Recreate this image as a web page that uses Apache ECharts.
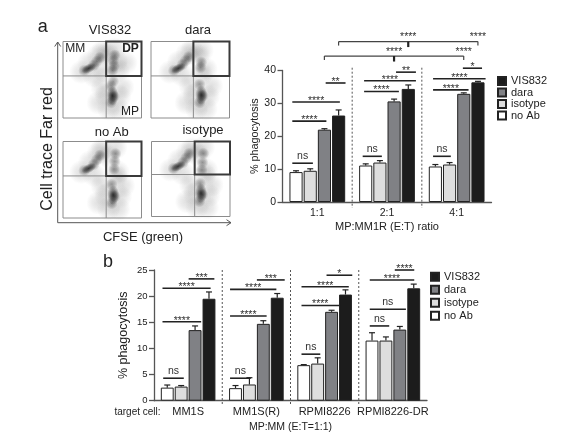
<!DOCTYPE html>
<html><head><meta charset="utf-8">
<script src="https://cdn.jsdelivr.net/npm/echarts@6/dist/echarts.min.js"></script>
<style>html,body{margin:0;padding:0;background:#fff}#c{width:567px;height:446px}</style>
</head><body><div id="c"></div>
<script>
const FONT = "'Liberation Sans', Arial, Helvetica, sans-serif";

// ---------- panel a: flow dot plots (0-100 units, y up) ----------
const dotTitles = ['VIS832', 'dara', 'no Ab', 'isotype'];
const dotGates = [[55, 55], [54, 55], [55, 55], [55, 56]];
const vis832MM = [[33, 65]];
const vis832MP = [[63, 29]];
const vis832Mid = [[27,62],[39,69],[43,74],[47,79],[61,20],[65,28],[61,42],[64,48],[63,62],[65,68],[64,75],[66,82]];
const vis832Sparse = [[23,60],[33,72],[45,82],[51,87],[57,84],[66,90],[70,62],[68,74],[55,30],[72,28],[58,12],[70,12],[50,40],[76,40],[45,20],[40,55],[80,72],[52,62]];
const daraMM = [[35, 65]];
const daraMP = [[64, 30]];
const daraMid = [[29,62],[40,70],[44,75],[48,80],[62,20],[66,29],[62,44],[63,66],[64,73]];
const daraSparse = [[24,60],[35,73],[46,84],[52,88],[60,82],[65,88],[70,64],[55,30],[73,28],[58,12],[70,12],[50,42],[77,42],[45,20],[40,56],[64,57]];
const noAbMM = [[33, 65]];
const noAbMP = [[64, 30]];
const noAbMid = [[27,62],[39,70],[43,76],[47,82],[62,19],[66,28],[62,44],[65,64],[66,74],[67,84]];
const noAbSparse = [[23,60],[34,73],[45,85],[50,90],[58,80],[67,92],[70,60],[55,30],[73,28],[58,12],[71,12],[50,42],[77,42],[45,20],[40,56],[68,54]];
const isoMM = [[34, 67]];
const isoMP = [[63, 31]];
const isoMid = [[28,64],[40,72],[44,78],[48,84],[61,20],[65,29],[62,44],[64,62],[65,72],[66,84]];
const isoSparse = [[24,62],[35,75],[46,86],[52,90],[60,82],[66,92],[70,62],[55,30],[73,28],[58,12],[71,12],[50,42],[77,42],[45,20],[40,57],[68,55]];

// ---------- panel a: bar chart ----------
const ratios = ['1:1', '2:1', '4:1'];
const aNoAb = [9.1, 11.1, 10.8];      const aNoAbErr = [0.4, 0.5, 0.6];
const aIsotype = [9.5, 12.0, 11.4];   const aIsotypeErr = [0.6, 0.6, 0.6];
const aDara = [22.0, 30.6, 32.9];     const aDaraErr = [0.3, 0.7, 0.3];
const aVIS832 = [26.3, 34.4, 36.4];   const aVIS832Err = [1.7, 1.2, 0.3];
// [category, from bar slot, to bar slot, height, label]
const aBrackets = [
  [0, 0.2, 1.65, 11.8, 'ns'], [0, 0.2, 2.6, 24.6, '****'], [0, 0.2, 3.55, 30.4, '****'], [0, 2.55, 3.95, 36.2, '**'],
  [1, 0.25, 1.6, 13.9, 'ns'], [1, 0.35, 2.8, 33.6, '****'], [1, 0.35, 4.0, 36.9, '****'], [1, 2.6, 4.0, 39.5, '**'],
  [2, 0.3, 1.55, 13.9, 'ns'], [2, 0.3, 2.8, 34.1, '****'], [2, 0.3, 4.0, 37.5, '****'], [2, 2.4, 3.75, 40.7, '*']
];
// comparisons across ratios: [bar slot, height, label mid, label end]
const aCross = [[2.46, 44.4, '****', '****'], [3.46, 48.8, '****', '****']];

// ---------- panel b: bar chart ----------
const cells = ['MM1S', 'MM1S(R)', 'RPMI8226', 'RPMI8226-DR'];
const bNoAb = [2.5, 2.4, 6.8, 11.5];     const bNoAbErr = [0.5, 0.5, 0.1, 1.5];
const bIsotype = [2.7, 3.1, 7.1, 11.5];  const bIsotypeErr = [0.2, 1.3, 1.1, 0.7];
const bDara = [13.5, 14.7, 17.0, 13.6];  const bDaraErr = [0.8, 0.6, 0.3, 0.6];
const bVIS832 = [19.5, 19.7, 20.3, 21.5]; const bVIS832Err = [1.3, 0.8, 0.9, 0.8];
const bBrackets = [
  [0, 0.17, 1.65, 4.3, 'ns'], [0, 0.12, 2.9, 15.1, '****'], [0, 0.12, 3.58, 21.5, '****'], [0, 2.0, 3.85, 23.3, '***'],
  [1, 0.07, 1.56, 4.3, 'ns'], [1, 0.07, 2.7, 16.2, '****'], [1, 0.07, 3.4, 21.3, '****'], [1, 2.0, 4.0, 23.1, '***'],
  [2, 0.3, 1.65, 8.9, 'ns'], [2, 0.3, 3.0, 18.2, '****'], [2, 0.3, 3.7, 21.8, '****'], [2, 2.1, 3.95, 24.0, '*'],
  [3, 0.3, 1.7, 14.3, 'ns'], [3, 0.3, 2.9, 17.5, 'ns'], [3, 0.3, 3.5, 23.1, '****'], [3, 2.1, 3.5, 25.0, '****']
];

const groupNames = ['no Ab', 'isotype', 'dara', 'VIS832'];
const groupColors = ['#ffffff', '#dedede', '#808185', '#1c1c1c'];
const legendOrder = ['VIS832', 'dara', 'isotype', 'no Ab'];

// ---------- layout ----------
const CAT_GAP = 0.2, BAR_GAP = 0.08;
const dotGrids = [
  {left: 63, top: 41.5, width: 78.5, height: 76.5},
  {left: 151, top: 41.5, width: 78.5, height: 76.5},
  {left: 63, top: 141.5, width: 78.5, height: 76.5},
  {left: 151.5, top: 141.5, width: 78.5, height: 75}
];
const A = {left: 282.5, top: 70.5, width: 209, height: 131.5};
const AO = {left: A.left, width: A.width, top: A.top + A.height - A.height * 50 / 40, height: A.height * 50 / 40};
const B = {left: 154, top: 270, width: 273, height: 130.7};

function clusterGeom(api, cat) {
  const c = api.coord([cat, 0])[0];
  const band = api.size([1, 0])[0];
  const cluster = band * (1 - CAT_GAP);
  const bw = cluster / (4 + 3 * BAR_GAP);
  const slot = bw * (1 + BAR_GAP);
  return {start: c - cluster / 2, bw, slot, band, c};
}
function slotX(api, cat, pos) { const g = clusterGeom(api, cat); return g.start + pos * g.slot; }

function errRender(params, api) {
  const cat = api.value(0), v = api.value(1), e = api.value(2), gi = api.value(3);
  const g = clusterGeom(api, cat);
  const x = g.start + gi * g.slot + g.bw / 2;
  const y0 = api.coord([cat, v])[1], y1 = api.coord([cat, v + e])[1];
  const st = {stroke: '#222', lineWidth: 1.2};
  return {type: 'group', children: [
    {type: 'line', shape: {x1: x, y1: y0, x2: x, y2: y1}, style: st},
    {type: 'line', shape: {x1: x - 3, y1: y1, x2: x + 3, y2: y1}, style: st}
  ]};
}
function bracketRender(list) {
  return function (params, api) {
    const b = list[params.dataIndex];
    const y = api.coord([b[0], b[3]])[1];
    const x1 = slotX(api, b[0], b[1]), x2 = slotX(api, b[0], b[2]);
    const star = b[4] !== 'ns';
    return {type: 'group', children: [
      {type: 'line', shape: {x1: x1, y1: y, x2: x2, y2: y}, style: {stroke: '#222', lineWidth: 1.6}},
      {type: 'text', x: (x1 + x2) / 2, y: star ? y + 4.5 : y - 1.5,
        style: {text: b[4], fill: '#333', fontSize: 10.5, fontFamily: FONT, align: 'center', verticalAlign: 'bottom'}}
    ]};
  };
}
function crossRender(params, api) {
  const b = aCross[params.dataIndex];
  const xs = [0, 1, 2].map(c => slotX(api, c, b[0]));
  const y = api.coord([0, b[1]])[1];
  const st = {stroke: '#444', lineWidth: 1.2};
  const ts = t => ({text: t, fill: '#333', fontSize: 10.5, fontFamily: FONT, align: 'center', verticalAlign: 'bottom'});
  return {type: 'group', children: [
    {type: 'line', shape: {x1: xs[0], y1: y, x2: xs[2], y2: y}, style: st},
    {type: 'line', shape: {x1: xs[0], y1: y, x2: xs[0], y2: y + 4}, style: st},
    {type: 'line', shape: {x1: xs[2], y1: y, x2: xs[2], y2: y + 4}, style: st},
    {type: 'line', shape: {x1: xs[1], y1: y, x2: xs[1], y2: y + 5.5}, style: {stroke: '#222', lineWidth: 2.2}},
    {type: 'text', x: xs[1], y: y + 1.5, style: ts(b[2])},
    {type: 'text', x: xs[2], y: y + 1.5, style: ts(b[3])}
  ]};
}
function sepRender(top, below) {
  return function (params, api) {
    const cat = api.value(0);
    const g = clusterGeom(api, cat);
    const x = g.c - g.band / 2;
    const y1 = api.coord([cat, top])[1], y2 = api.coord([cat, 0])[1] + below;
    return {type: 'line', shape: {x1: x, y1: y1, x2: x, y2: y2}, style: {stroke: '#555', lineWidth: 1, lineDash: [2, 2]}};
  };
}

const grids = [], xAxes = [], yAxes = [], series = [];
const dotSets = [
  [vis832MM, vis832MP, vis832Mid, vis832Sparse],
  [daraMM, daraMP, daraMid, daraSparse],
  [noAbMM, noAbMP, noAbMid, noAbSparse],
  [isoMM, isoMP, isoMid, isoSparse]
];
function radial(a) {
  return {type: 'radial', x: 0.5, y: 0.5, r: 0.5, colorStops: [
    {offset: 0, color: 'rgba(15,15,15,' + a + ')'}, {offset: 0.5, color: 'rgba(15,15,15,' + (a * 0.6) + ')'}, {offset: 1, color: 'rgba(15,15,15,0)'}]};
}
dotGrids.forEach((g, i) => {
  grids.push(Object.assign({show: true, borderColor: '#8c8c8c', borderWidth: 1, backgroundColor: 'transparent'}, g));
  xAxes.push({type: 'value', gridIndex: i, min: 0, max: 100, show: false});
  yAxes.push({type: 'value', gridIndex: i, min: 0, max: 100, show: false});
  const [mm, mp, mid, sparse] = dotSets[i];
  const base = {type: 'scatter', xAxisIndex: i, yAxisIndex: i, silent: true};
  series.push(Object.assign({}, base, {data: sparse, symbolSize: 24, itemStyle: {color: radial(0.17)}}));
  series.push(Object.assign({}, base, {data: mid, symbolSize: 12, itemStyle: {color: radial(0.5)}}));
  series.push(Object.assign({}, base, {data: mm, symbolSize: [16, 9], symbolRotate: 28, itemStyle: {color: radial(1)}}));
  series.push(Object.assign({}, base, {data: mp, symbolSize: [12, 20], itemStyle: {color: radial(1)}}));
  series.push({type: 'custom', xAxisIndex: i, yAxisIndex: i, silent: true, z: 5, data: [dotGates[i]],
    renderItem: function (params, api) {
      const gv = dotGates[i];
      const p0 = api.coord([0, 0]), p1 = api.coord([100, 100]), pg = api.coord(gv);
      return {type: 'group', children: [
        {type: 'line', shape: {x1: pg[0], y1: p0[1], x2: pg[0], y2: p1[1]}, style: {stroke: '#8c8c8c', lineWidth: 1}},
        {type: 'line', shape: {x1: p0[0], y1: pg[1], x2: p1[0], y2: pg[1]}, style: {stroke: '#8c8c8c', lineWidth: 1}},
        {type: 'rect', shape: {x: pg[0], y: p1[1], width: p1[0] - pg[0], height: pg[1] - p1[1]}, style: {fill: 'none', stroke: '#3a3a3a', lineWidth: 2}}
      ]};
    }});
});

const axisLineStyle = {color: '#555', width: 1.3};
grids.push(A); grids.push(AO);
xAxes.push({type: 'category', gridIndex: 4, data: ratios,
  axisLine: {lineStyle: axisLineStyle}, axisTick: {alignWithLabel: true, length: 3, lineStyle: axisLineStyle},
  axisLabel: {fontSize: 10.5, color: '#222', margin: 6, fontFamily: FONT, interval: 0},
  name: 'MP:MM1R (E:T) ratio', nameLocation: 'middle', nameGap: 19,
  nameTextStyle: {fontSize: 11, color: '#222', fontFamily: FONT}});
yAxes.push({type: 'value', gridIndex: 4, min: 0, max: 40, interval: 10,
  axisLine: {show: true, lineStyle: axisLineStyle}, axisTick: {show: true, length: 5, lineStyle: axisLineStyle},
  axisLabel: {fontSize: 10.5, color: '#222', margin: 6.5, fontFamily: FONT}, splitLine: {show: false},
  name: '% phagocytosis', nameLocation: 'middle', nameGap: 20,
  nameTextStyle: {fontSize: 10.8, color: '#222', fontFamily: FONT}});
xAxes.push({type: 'category', gridIndex: 5, data: ratios, show: false});
yAxes.push({type: 'value', gridIndex: 5, min: 0, max: 50, show: false});
grids.push(B);
xAxes.push({type: 'category', gridIndex: 6, data: cells,
  axisLine: {lineStyle: axisLineStyle}, axisTick: {alignWithLabel: true, length: 3, lineStyle: axisLineStyle},
  axisLabel: {fontSize: 11, color: '#222', margin: 6, fontFamily: FONT, interval: 0, hideOverlap: false},
  name: 'MP:MM (E:T=1:1)', nameLocation: 'middle', nameGap: 21,
  nameTextStyle: {fontSize: 10.5, color: '#222', fontFamily: FONT}});
yAxes.push({type: 'value', gridIndex: 6, min: 0, max: 25, interval: 5,
  axisLine: {show: true, lineStyle: axisLineStyle}, axisTick: {show: true, length: 5, lineStyle: axisLineStyle},
  axisLabel: {fontSize: 9.5, color: '#222', margin: 6.5, fontFamily: FONT}, splitLine: {show: false},
  name: '% phagocytosis', nameLocation: 'middle', nameGap: 24,
  nameTextStyle: {fontSize: 12.5, color: '#222', fontFamily: FONT}});

const aVals = [aNoAb, aIsotype, aDara, aVIS832], aErrs = [aNoAbErr, aIsotypeErr, aDaraErr, aVIS832Err];
const bVals = [bNoAb, bIsotype, bDara, bVIS832], bErrs = [bNoAbErr, bIsotypeErr, bDaraErr, bVIS832Err];
function addBars(vals, errs, axis) {
  vals.forEach((v, gi) => {
    series.push({type: 'bar', name: groupNames[gi], xAxisIndex: axis, yAxisIndex: axis, data: v,
      barCategoryGap: (CAT_GAP * 100) + '%', barGap: (BAR_GAP * 100) + '%', silent: true,
      itemStyle: {color: groupColors[gi], borderColor: '#222', borderWidth: 1}});
  });
  const ed = [];
  vals.forEach((v, gi) => v.forEach((val, c) => ed.push([c, val, errs[gi][c], gi])));
  series.push({type: 'custom', xAxisIndex: axis, yAxisIndex: axis, z: 4, silent: true, data: ed,
    encode: {x: 0, y: 1}, renderItem: errRender});
}
addBars(aVals, aErrs, 4);
addBars(bVals, bErrs, 6);
series.push({type: 'custom', xAxisIndex: 5, yAxisIndex: 5, z: 4, silent: true,
  data: aBrackets.map(b => [b[0], b[3]]), renderItem: bracketRender(aBrackets)});
series.push({type: 'custom', xAxisIndex: 5, yAxisIndex: 5, z: 4, silent: true,
  data: aCross.map(b => [0, b[1]]), renderItem: crossRender});
series.push({type: 'custom', xAxisIndex: 5, yAxisIndex: 5, z: 1, silent: true,
  data: [[1], [2]], renderItem: sepRender(40.85, 6)});
series.push({type: 'custom', xAxisIndex: 6, yAxisIndex: 6, z: 4, silent: true,
  data: bBrackets.map(b => [b[0], b[3]]), renderItem: bracketRender(bBrackets)});
series.push({type: 'custom', xAxisIndex: 6, yAxisIndex: 6, z: 1, silent: true,
  data: [[1], [2], [3]], renderItem: sepRender(25, 5)});

function txt(text, x, y, size, extra) {
  return Object.assign({type: 'text', x: x, y: y, silent: true,
    style: Object.assign({text: text, fill: '#222', fontSize: size, fontFamily: FONT,
      align: 'center', verticalAlign: 'middle', textAlign: 'center', textVerticalAlign: 'middle'}, (extra && extra.style) || {})},
    extra && extra.el || {});
}
const arrowStyle = {stroke: '#555', lineWidth: 1, fill: 'none'};
const graphics = [
  txt('a', 42.7, 27.5, 18),
  txt('b', 108, 262, 18),
  txt(dotTitles[0], 110, 30.7, 13),
  txt(dotTitles[1], 198, 30.7, 13),
  txt(dotTitles[2], 111.7, 132.2, 13),
  txt(dotTitles[3], 203, 130.7, 13),
  txt('MM', 75.3, 49, 12),
  txt('DP', 130.5, 49, 12, {style: {fontWeight: 'bold'}}),
  txt('MP', 130, 111.5, 12),
  txt('Cell trace Far red', 47.3, 149, 16, {el: {rotation: Math.PI / 2}}),
  txt('CFSE (green)', 143, 237.3, 13),
  txt('target cell:', 137.5, 412.7, 10),
  {type: 'polyline', silent: true, shape: {points: [[57.7, 42], [57.7, 222.7], [231, 222.7]]}, style: arrowStyle},
  {type: 'polyline', silent: true, shape: {points: [[54.7, 46.5], [57.7, 42], [60.7, 46.5]]}, style: arrowStyle},
  {type: 'polyline', silent: true, shape: {points: [[226.5, 219.7], [231, 222.7], [226.5, 225.7]]}, style: arrowStyle}
];

const legendBase = {orient: 'vertical', icon: 'rect', itemWidth: 8, itemHeight: 8, padding: 0,
  selectedMode: false, data: legendOrder};
const chart = echarts.init(document.getElementById('c'));
chart.setOption({
  animation: false,
  grid: grids, xAxis: xAxes, yAxis: yAxes, series: series,
  legend: [
    Object.assign({}, legendBase, {left: 497, top: 75.5, itemGap: 0.5,
      textStyle: {fontSize: 11, lineHeight: 11, color: '#222', fontFamily: FONT}}),
    Object.assign({}, legendBase, {left: 430, top: 270.7, itemGap: 1,
      textStyle: {fontSize: 11, lineHeight: 12, color: '#222', fontFamily: FONT}})
  ],
  graphic: graphics
});
</script></body></html>
